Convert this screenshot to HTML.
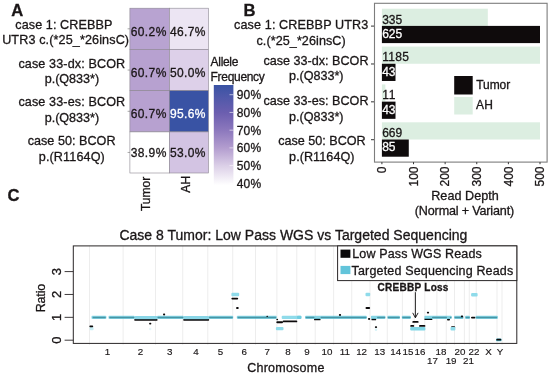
<!DOCTYPE html>
<html><head><meta charset="utf-8"><title>Figure</title>
<style>html,body{margin:0;padding:0;background:#fff}svg{display:block}text{font-family:"Liberation Sans", Arial, sans-serif}</style>
</head><body>
<svg width="550" height="376" viewBox="0 0 550 376" fill="#1a1617">
<rect width="550" height="376" fill="#ffffff"/>
<text x="11.2" y="16" font-size="16.6" font-weight="bold" stroke="#1a1617" stroke-width="0.3">A</text>
<text x="243.6" y="15.6" font-size="16.6" font-weight="bold" stroke="#1a1617" stroke-width="0.3">B</text>
<text x="7.4" y="200.8" font-size="16.6" font-weight="bold" stroke="#1a1617" stroke-width="0.3">C</text>
<text x="63.8" y="28.6" font-size="12.6" text-anchor="middle" textLength="97.0" stroke="#1a1617" stroke-width="0.3">case 1: CREBBP</text>
<text x="65.6" y="44.1" font-size="12.6" text-anchor="middle" textLength="126.9" stroke="#1a1617" stroke-width="0.3">UTR3 c.(*25_*26insC)</text>
<text x="71.8" y="67.5" font-size="12.6" text-anchor="middle" textLength="106.8" stroke="#1a1617" stroke-width="0.3">case 33-dx: BCOR</text>
<text x="71.9" y="82.5" font-size="12.6" text-anchor="middle" textLength="54.4" stroke="#1a1617" stroke-width="0.3">p.(Q833*)</text>
<text x="71.8" y="106.1" font-size="12.6" text-anchor="middle" textLength="106.8" stroke="#1a1617" stroke-width="0.3">case 33-es: BCOR</text>
<text x="71.9" y="121.6" font-size="12.6" text-anchor="middle" textLength="54.4" stroke="#1a1617" stroke-width="0.3">p.(Q833*)</text>
<text x="71.6" y="145.4" font-size="12.6" text-anchor="middle" textLength="87.9" stroke="#1a1617" stroke-width="0.3">case 50: BCOR</text>
<text x="71.8" y="161.3" font-size="12.6" text-anchor="middle" textLength="66" stroke="#1a1617" stroke-width="0.3">p.(R1164Q)</text>
<rect x="129.90" y="8.20" width="39.50" height="41.20" fill="#b8a3d1" stroke="#8c8791" stroke-width="0.6"/>
<rect x="169.40" y="8.20" width="39.10" height="41.20" fill="#ece5f3" stroke="#8c8791" stroke-width="0.6"/>
<rect x="129.90" y="49.40" width="39.50" height="41.30" fill="#b7a1d0" stroke="#8c8791" stroke-width="0.6"/>
<rect x="169.40" y="49.40" width="39.10" height="41.30" fill="#ddd0e9" stroke="#8c8791" stroke-width="0.6"/>
<rect x="129.90" y="90.70" width="39.50" height="41.20" fill="#b7a1d0" stroke="#8c8791" stroke-width="0.6"/>
<rect x="169.40" y="90.70" width="39.10" height="41.20" fill="#3953a4" stroke="#8c8791" stroke-width="0.6"/>
<rect x="129.90" y="131.90" width="39.50" height="41.10" fill="#ffffff" stroke="#8c8791" stroke-width="0.6"/>
<rect x="169.40" y="131.90" width="39.10" height="41.10" fill="#d3c4e3" stroke="#8c8791" stroke-width="0.6"/>
<text x="148.5" y="36.3" font-size="12" text-anchor="middle" textLength="35.6" stroke="#1a1617" stroke-width="0.3">60.2%</text>
<text x="187.7" y="36.3" font-size="12" text-anchor="middle" textLength="35.6" stroke="#1a1617" stroke-width="0.3">46.7%</text>
<text x="148.5" y="77.0" font-size="12" text-anchor="middle" textLength="35.6" stroke="#1a1617" stroke-width="0.3">60.7%</text>
<text x="187.7" y="77.0" font-size="12" text-anchor="middle" textLength="35.6" stroke="#1a1617" stroke-width="0.3">50.0%</text>
<text x="148.5" y="118.2" font-size="12" text-anchor="middle" textLength="35.6" stroke="#1a1617" stroke-width="0.3">60.7%</text>
<text x="187.7" y="118.2" font-size="12" text-anchor="middle" textLength="35.6" fill="#ffffff" stroke="#ffffff" stroke-width="0.3">95.6%</text>
<text x="148.5" y="157.3" font-size="12" text-anchor="middle" textLength="35.6" stroke="#1a1617" stroke-width="0.3">38.9%</text>
<text x="187.7" y="157.3" font-size="12" text-anchor="middle" textLength="35.6" stroke="#1a1617" stroke-width="0.3">53.0%</text>
<line x1="127.60" y1="28.80" x2="129.90" y2="28.80" stroke="#6e6e6e" stroke-width="0.6"/>
<line x1="127.60" y1="70.05" x2="129.90" y2="70.05" stroke="#6e6e6e" stroke-width="0.6"/>
<line x1="127.60" y1="111.30" x2="129.90" y2="111.30" stroke="#6e6e6e" stroke-width="0.6"/>
<line x1="127.60" y1="152.45" x2="129.90" y2="152.45" stroke="#6e6e6e" stroke-width="0.6"/>
<text x="150.1" y="176.8" font-size="12" text-anchor="end" textLength="34.2" stroke="#1a1617" stroke-width="0.3" transform="rotate(-90 150.1 176.8)">Tumor</text>
<text x="190.3" y="175.8" font-size="12" text-anchor="end" textLength="17" stroke="#1a1617" stroke-width="0.3" transform="rotate(-90 190.3 175.8)">AH</text>
<text x="210.6" y="65.8" font-size="12" textLength="27.8" stroke="#1a1617" stroke-width="0.3">Allele</text>
<text x="210.6" y="80.7" font-size="12" textLength="54.2" stroke="#1a1617" stroke-width="0.3">Frequency</text>
<defs><linearGradient id="cb" x1="0" y1="0" x2="0" y2="1">
<stop offset="0" stop-color="#3953a4"/><stop offset="0.099" stop-color="#4c58a9"/>
<stop offset="0.275" stop-color="#6b5eaf"/><stop offset="0.451" stop-color="#8c78bd"/>
<stop offset="0.628" stop-color="#b39dcf"/><stop offset="0.804" stop-color="#dbcfe7"/>
<stop offset="1" stop-color="#ffffff"/></linearGradient></defs>
<rect x="213.80" y="85.00" width="19.60" height="100.30" fill="url(#cb)"/>
<line x1="229.50" y1="94.70" x2="233.40" y2="94.70" stroke="#ffffff" stroke-width="0.6"/>
<text x="236.7" y="99.10000000000001" font-size="12" textLength="24.5" stroke="#1a1617" stroke-width="0.3">90%</text>
<line x1="229.50" y1="112.43" x2="233.40" y2="112.43" stroke="#ffffff" stroke-width="0.6"/>
<text x="236.7" y="116.83000000000001" font-size="12" textLength="24.5" stroke="#1a1617" stroke-width="0.3">80%</text>
<line x1="229.50" y1="130.16" x2="233.40" y2="130.16" stroke="#ffffff" stroke-width="0.6"/>
<text x="236.7" y="134.56" font-size="12" textLength="24.5" stroke="#1a1617" stroke-width="0.3">70%</text>
<line x1="229.50" y1="147.89" x2="233.40" y2="147.89" stroke="#ffffff" stroke-width="0.6"/>
<text x="236.7" y="152.29" font-size="12" textLength="24.5" stroke="#1a1617" stroke-width="0.3">60%</text>
<line x1="229.50" y1="165.62" x2="233.40" y2="165.62" stroke="#ffffff" stroke-width="0.6"/>
<text x="236.7" y="170.02" font-size="12" textLength="24.5" stroke="#1a1617" stroke-width="0.3">50%</text>
<line x1="229.50" y1="183.35" x2="233.40" y2="183.35" stroke="#ffffff" stroke-width="0.6"/>
<text x="236.7" y="187.75000000000003" font-size="12" textLength="24.5" stroke="#1a1617" stroke-width="0.3">40%</text>
<text x="301.2" y="28.7" font-size="12.6" text-anchor="middle" textLength="134.3" stroke="#1a1617" stroke-width="0.3">case 1: CREBBP UTR3</text>
<text x="301.1" y="45.0" font-size="12.6" text-anchor="middle" textLength="89.2" stroke="#1a1617" stroke-width="0.3">c.(*25_*26insC)</text>
<text x="316.0" y="65.3" font-size="12.6" text-anchor="middle" textLength="105" stroke="#1a1617" stroke-width="0.3">case 33-dx: BCOR</text>
<text x="316.3" y="80.2" font-size="12.6" text-anchor="middle" textLength="54.4" stroke="#1a1617" stroke-width="0.3">p.(Q833*)</text>
<text x="316.0" y="104.7" font-size="12.6" text-anchor="middle" textLength="105" stroke="#1a1617" stroke-width="0.3">case 33-es: BCOR</text>
<text x="316.3" y="120.8" font-size="12.6" text-anchor="middle" textLength="54.4" stroke="#1a1617" stroke-width="0.3">p.(Q833*)</text>
<text x="322.0" y="144.9" font-size="12.6" text-anchor="middle" textLength="87.4" stroke="#1a1617" stroke-width="0.3">case 50: BCOR</text>
<text x="321.8" y="161.3" font-size="12.6" text-anchor="middle" textLength="65.5" stroke="#1a1617" stroke-width="0.3">p.(R1164Q)</text>
<rect x="381.90" y="8.70" width="105.93" height="17.20" fill="#dceee1"/>
<rect x="381.90" y="25.90" width="158.10" height="17.20" fill="#0f0b0c"/>
<text x="382.2" y="23.599999999999998" font-size="12" textLength="20.009999999999998" stroke="#1a1617" stroke-width="0.3">335</text>
<text x="382.2" y="37.8" font-size="12" textLength="20.009999999999998" fill="#ffffff" stroke="#ffffff" stroke-width="0.3">625</text>
<line x1="371.00" y1="26.10" x2="374.50" y2="26.10" stroke="#333333" stroke-width="1.0"/>
<rect x="381.90" y="46.57" width="158.10" height="17.20" fill="#dceee1"/>
<rect x="381.90" y="63.77" width="13.60" height="17.20" fill="#0f0b0c"/>
<text x="382.2" y="61.47" font-size="12" textLength="26.68" stroke="#1a1617" stroke-width="0.3">1185</text>
<text x="382.2" y="75.67" font-size="12" textLength="13.34" fill="#ffffff" stroke="#ffffff" stroke-width="0.3">43</text>
<line x1="371.00" y1="63.97" x2="374.50" y2="63.97" stroke="#333333" stroke-width="1.0"/>
<rect x="381.90" y="84.44" width="3.48" height="17.20" fill="#dceee1"/>
<rect x="381.90" y="101.64" width="13.60" height="17.20" fill="#0f0b0c"/>
<text x="382.2" y="99.33999999999999" font-size="12" textLength="13.34" stroke="#1a1617" stroke-width="0.3">11</text>
<text x="382.2" y="113.53999999999999" font-size="12" textLength="13.34" fill="#ffffff" stroke="#ffffff" stroke-width="0.3">43</text>
<line x1="371.00" y1="101.84" x2="374.50" y2="101.84" stroke="#333333" stroke-width="1.0"/>
<rect x="381.90" y="122.31" width="158.10" height="17.20" fill="#dceee1"/>
<rect x="381.90" y="139.51" width="26.88" height="17.20" fill="#0f0b0c"/>
<text x="382.2" y="137.20999999999998" font-size="12" textLength="20.009999999999998" stroke="#1a1617" stroke-width="0.3">669</text>
<text x="382.2" y="151.41" font-size="12" textLength="13.34" fill="#ffffff" stroke="#ffffff" stroke-width="0.3">85</text>
<line x1="371.00" y1="139.71" x2="374.50" y2="139.71" stroke="#333333" stroke-width="1.0"/>
<rect x="374.50" y="3.30" width="172.60" height="158.80" fill="none" stroke="#7d7d7d" stroke-width="1.1"/>
<line x1="381.90" y1="162.10" x2="381.90" y2="164.20" stroke="#333333" stroke-width="1.0"/>
<text x="386.2" y="166.5" font-size="12" text-anchor="end" textLength="6.67" stroke="#1a1617" stroke-width="0.3" transform="rotate(-90 386.2 166.5)">0</text>
<line x1="413.52" y1="162.10" x2="413.52" y2="164.20" stroke="#333333" stroke-width="1.0"/>
<text x="417.82" y="166.5" font-size="12" text-anchor="end" textLength="20.009999999999998" stroke="#1a1617" stroke-width="0.3" transform="rotate(-90 417.82 166.5)">100</text>
<line x1="445.14" y1="162.10" x2="445.14" y2="164.20" stroke="#333333" stroke-width="1.0"/>
<text x="449.44" y="166.5" font-size="12" text-anchor="end" textLength="20.009999999999998" stroke="#1a1617" stroke-width="0.3" transform="rotate(-90 449.44 166.5)">200</text>
<line x1="476.76" y1="162.10" x2="476.76" y2="164.20" stroke="#333333" stroke-width="1.0"/>
<text x="481.06" y="166.5" font-size="12" text-anchor="end" textLength="20.009999999999998" stroke="#1a1617" stroke-width="0.3" transform="rotate(-90 481.06 166.5)">300</text>
<line x1="508.38" y1="162.10" x2="508.38" y2="164.20" stroke="#333333" stroke-width="1.0"/>
<text x="512.68" y="166.5" font-size="12" text-anchor="end" textLength="20.009999999999998" stroke="#1a1617" stroke-width="0.3" transform="rotate(-90 512.68 166.5)">400</text>
<line x1="540.00" y1="162.10" x2="540.00" y2="164.20" stroke="#333333" stroke-width="1.0"/>
<text x="544.3" y="166.5" font-size="12" text-anchor="end" textLength="20.009999999999998" stroke="#1a1617" stroke-width="0.3" transform="rotate(-90 544.3 166.5)">500</text>
<rect x="454.20" y="76.00" width="18.50" height="18.50" fill="#0f0b0c"/>
<rect x="454.20" y="97.00" width="18.50" height="17.50" fill="#dceee1"/>
<text x="476.2" y="89.0" font-size="12" textLength="34" stroke="#1a1617" stroke-width="0.3">Tumor</text>
<text x="476.0" y="109.0" font-size="12" textLength="17" stroke="#1a1617" stroke-width="0.3">AH</text>
<text x="465.0" y="200.4" font-size="12.6" text-anchor="middle" textLength="67.6" stroke="#1a1617" stroke-width="0.3">Read Depth</text>
<text x="464.5" y="214.9" font-size="12.6" text-anchor="middle" textLength="99.3" stroke="#1a1617" stroke-width="0.3">(Normal + Variant)</text>
<text x="119.4" y="239.6" font-size="14" textLength="348" stroke="#1a1617" stroke-width="0.3">Case 8 Tumor: Low Pass WGS vs Targeted Sequencing</text>
<line x1="89.50" y1="245.90" x2="89.50" y2="344.90" stroke="#e5e5e5" stroke-width="0.7"/>
<line x1="123.10" y1="245.90" x2="123.10" y2="344.90" stroke="#e5e5e5" stroke-width="0.7"/>
<line x1="155.50" y1="245.90" x2="155.50" y2="344.90" stroke="#e5e5e5" stroke-width="0.7"/>
<line x1="182.70" y1="245.90" x2="182.70" y2="344.90" stroke="#e5e5e5" stroke-width="0.7"/>
<line x1="207.80" y1="245.90" x2="207.80" y2="344.90" stroke="#e5e5e5" stroke-width="0.7"/>
<line x1="232.70" y1="245.90" x2="232.70" y2="344.90" stroke="#e5e5e5" stroke-width="0.7"/>
<line x1="255.50" y1="245.90" x2="255.50" y2="344.90" stroke="#e5e5e5" stroke-width="0.7"/>
<line x1="276.90" y1="245.90" x2="276.90" y2="344.90" stroke="#e5e5e5" stroke-width="0.7"/>
<line x1="296.80" y1="245.90" x2="296.80" y2="344.90" stroke="#e5e5e5" stroke-width="0.7"/>
<line x1="315.20" y1="245.90" x2="315.20" y2="344.90" stroke="#e5e5e5" stroke-width="0.7"/>
<line x1="333.60" y1="245.90" x2="333.60" y2="344.90" stroke="#e5e5e5" stroke-width="0.7"/>
<line x1="351.70" y1="245.90" x2="351.70" y2="344.90" stroke="#e5e5e5" stroke-width="0.7"/>
<line x1="370.00" y1="245.90" x2="370.00" y2="344.90" stroke="#e5e5e5" stroke-width="0.7"/>
<line x1="387.30" y1="245.90" x2="387.30" y2="344.90" stroke="#e5e5e5" stroke-width="0.7"/>
<line x1="402.40" y1="245.90" x2="402.40" y2="344.90" stroke="#e5e5e5" stroke-width="0.7"/>
<line x1="414.20" y1="245.90" x2="414.20" y2="344.90" stroke="#e5e5e5" stroke-width="0.7"/>
<line x1="424.80" y1="245.90" x2="424.80" y2="344.90" stroke="#e5e5e5" stroke-width="0.7"/>
<line x1="436.90" y1="245.90" x2="436.90" y2="344.90" stroke="#e5e5e5" stroke-width="0.7"/>
<line x1="446.30" y1="245.90" x2="446.30" y2="344.90" stroke="#e5e5e5" stroke-width="0.7"/>
<line x1="454.50" y1="245.90" x2="454.50" y2="344.90" stroke="#e5e5e5" stroke-width="0.7"/>
<line x1="464.40" y1="245.90" x2="464.40" y2="344.90" stroke="#e5e5e5" stroke-width="0.7"/>
<line x1="469.30" y1="245.90" x2="469.30" y2="344.90" stroke="#e5e5e5" stroke-width="0.7"/>
<line x1="476.20" y1="245.90" x2="476.20" y2="344.90" stroke="#e5e5e5" stroke-width="0.7"/>
<line x1="497.00" y1="245.90" x2="497.00" y2="344.90" stroke="#e5e5e5" stroke-width="0.7"/>
<line x1="502.00" y1="245.90" x2="502.00" y2="344.90" stroke="#e5e5e5" stroke-width="0.7"/>
<rect x="92.5" y="316.85" width="13.3" height="1.3" rx="0.65" fill="#0c0a0b"/>
<rect x="109.2" y="316.85" width="25.3" height="1.3" rx="0.65" fill="#0c0a0b"/>
<rect x="157.3" y="316.85" width="26.2" height="1.3" rx="0.65" fill="#0c0a0b"/>
<rect x="209.0" y="316.85" width="23.8" height="1.3" rx="0.65" fill="#0c0a0b"/>
<rect x="237.5" y="316.85" width="38.7" height="1.3" rx="0.65" fill="#0c0a0b"/>
<rect x="305.6" y="316.85" width="8.9" height="1.3" rx="0.65" fill="#0c0a0b"/>
<rect x="320.5" y="316.85" width="46.0" height="1.3" rx="0.65" fill="#0c0a0b"/>
<rect x="377.0" y="316.85" width="8.2" height="1.3" rx="0.65" fill="#0c0a0b"/>
<rect x="387.8" y="316.85" width="12.0" height="1.3" rx="0.65" fill="#0c0a0b"/>
<rect x="402.2" y="316.85" width="8.4" height="1.3" rx="0.65" fill="#0c0a0b"/>
<rect x="432.0" y="316.85" width="15.0" height="1.3" rx="0.65" fill="#0c0a0b"/>
<rect x="449.8" y="316.85" width="1.6" height="1.3" rx="0.65" fill="#0c0a0b"/>
<rect x="454.6" y="316.85" width="8.6" height="1.3" rx="0.65" fill="#0c0a0b"/>
<rect x="465.6" y="316.85" width="4.2" height="1.3" rx="0.65" fill="#0c0a0b"/>
<rect x="476.0" y="316.85" width="21.2" height="1.3" rx="0.65" fill="#0c0a0b"/>
<rect x="134.2" y="319.10" width="23.4" height="1.6" rx="0.8" fill="#0c0a0b"/>
<rect x="183.2" y="319.10" width="26.0" height="1.6" rx="0.8" fill="#0c0a0b"/>
<rect x="231.4" y="297.65" width="6.8" height="1.9" rx="0.95" fill="#0c0a0b"/>
<rect x="276.3" y="321.35" width="6.7" height="1.9" rx="0.95" fill="#0c0a0b"/>
<rect x="282.6" y="320.45" width="14.7" height="1.9" rx="0.95" fill="#0c0a0b"/>
<rect x="314.0" y="318.55" width="6.6" height="1.7" rx="0.85" fill="#0c0a0b"/>
<rect x="365.5" y="307.10" width="4.6" height="2.0" rx="1.0" fill="#0c0a0b"/>
<rect x="371.4" y="318.55" width="4.8" height="1.7" rx="0.85" fill="#0c0a0b"/>
<rect x="412.3" y="320.95" width="6.3" height="1.9" rx="0.95" fill="#0c0a0b"/>
<rect x="410.2" y="324.95" width="4.0" height="1.9" rx="0.95" fill="#0c0a0b"/>
<rect x="419.0" y="324.95" width="6.4" height="1.9" rx="0.95" fill="#0c0a0b"/>
<rect x="424.4" y="318.35" width="8.0" height="1.7" rx="0.85" fill="#0c0a0b"/>
<rect x="447.0" y="318.75" width="3.0" height="1.7" rx="0.85" fill="#0c0a0b"/>
<rect x="451.0" y="326.25" width="4.2" height="1.9" rx="0.95" fill="#0c0a0b"/>
<rect x="471.0" y="316.65" width="4.5" height="1.9" rx="0.95" fill="#0c0a0b"/>
<rect x="91.5" y="315.70" width="14.9" height="3.4" rx="1.0" fill="#5cc6dc" fill-opacity="0.74"/>
<rect x="108.5" y="315.70" width="26.3" height="3.4" rx="1.0" fill="#5cc6dc" fill-opacity="0.74"/>
<rect x="157.0" y="315.70" width="26.8" height="3.4" rx="1.0" fill="#5cc6dc" fill-opacity="0.74"/>
<rect x="208.7" y="315.70" width="24.5" height="3.4" rx="1.0" fill="#5cc6dc" fill-opacity="0.74"/>
<rect x="236.8" y="315.70" width="40.0" height="3.4" rx="1.0" fill="#5cc6dc" fill-opacity="0.74"/>
<rect x="305.0" y="315.70" width="61.9" height="3.4" rx="1.0" fill="#5cc6dc" fill-opacity="0.74"/>
<rect x="370.9" y="315.70" width="14.6" height="3.4" rx="1.0" fill="#5cc6dc" fill-opacity="0.74"/>
<rect x="387.3" y="315.70" width="12.7" height="3.4" rx="1.0" fill="#5cc6dc" fill-opacity="0.74"/>
<rect x="401.8" y="315.70" width="9.1" height="3.4" rx="1.0" fill="#5cc6dc" fill-opacity="0.74"/>
<rect x="424.4" y="315.70" width="27.4" height="3.4" rx="1.0" fill="#5cc6dc" fill-opacity="0.74"/>
<rect x="454.1" y="315.70" width="9.4" height="3.4" rx="1.0" fill="#5cc6dc" fill-opacity="0.74"/>
<rect x="465.0" y="315.70" width="5.0" height="3.4" rx="1.0" fill="#5cc6dc" fill-opacity="0.74"/>
<rect x="475.5" y="315.70" width="22.4" height="3.4" rx="1.0" fill="#5cc6dc" fill-opacity="0.74"/>
<rect x="134.5" y="315.90" width="22.8" height="3.4" rx="1.0" fill="#7fd3e5" fill-opacity="0.92"/>
<rect x="183.5" y="315.90" width="25.5" height="3.4" rx="1.0" fill="#7fd3e5" fill-opacity="0.92"/>
<rect x="281.7" y="315.70" width="19.7" height="3.4" rx="1.0" fill="#8fdbea"/>
<rect x="297.0" y="315.70" width="4.4" height="3.4" rx="1.0" fill="#6fcde0"/>
<rect x="231.4" y="292.80" width="7.8" height="3.4" rx="1.0" fill="#8fdbea"/>
<rect x="275.9" y="326.90" width="7.6" height="3.4" rx="1.0" fill="#8fdbea"/>
<rect x="410.2" y="327.10" width="15.2" height="3.4" rx="1.0" fill="#7fd5e5"/>
<rect x="450.5" y="327.10" width="4.9" height="3.4" rx="1.0" fill="#8fdbe9"/>
<rect x="471.1" y="293.10" width="6.5" height="3.4" rx="1.0" fill="#8fdbea"/>
<rect x="365.5" y="292.80" width="4.7" height="3.4" rx="1.0" fill="#8fdbea"/>
<rect x="89.6" y="326.90" width="4.0" height="3.4" rx="1.0" fill="#c9eef5"/>
<rect x="149.0" y="327.70" width="2.4" height="2.6" rx="1.0" fill="#e6f7fa"/>
<rect x="374.8" y="328.30" width="2.4" height="2.6" rx="1.0" fill="#d9f3f8"/>
<rect x="496.0" y="338.40" width="5.6" height="2.8" rx="1.0" fill="#5cc6dc"/>
<rect x="496.3" y="338.80" width="5.0" height="1.8" rx="0.9" fill="#0c0a0b"/>
<rect x="89.4" y="325.40" width="3.8" height="1.8" rx="0.8" fill="#0c0a0b"/>
<rect x="149.1" y="322.70" width="2.2" height="1.8" rx="0.8" fill="#0c0a0b"/>
<rect x="163.0" y="313.60" width="2.2" height="1.8" rx="0.8" fill="#0c0a0b"/>
<rect x="236.1" y="307.10" width="2.6" height="2.0" rx="0.8" fill="#0c0a0b"/>
<rect x="266.3" y="315.70" width="1.8" height="1.2" rx="0.8" fill="#0c0a0b"/>
<rect x="276.3" y="318.80" width="1.8" height="1.4" rx="0.8" fill="#0c0a0b"/>
<rect x="338.9" y="314.10" width="2.2" height="1.8" rx="0.8" fill="#0c0a0b"/>
<rect x="368.0" y="318.10" width="2.2" height="1.8" rx="0.8" fill="#0c0a0b"/>
<rect x="374.9" y="326.30" width="2.2" height="1.8" rx="0.8" fill="#0c0a0b"/>
<rect x="426.9" y="311.80" width="2.2" height="1.8" rx="0.8" fill="#0c0a0b"/>
<rect x="460.9" y="315.50" width="2.2" height="1.8" rx="0.8" fill="#0c0a0b"/>
<rect x="73.30" y="245.90" width="443.50" height="97.50" fill="none" stroke="#2a2627" stroke-width="1.0"/>
<line x1="64.60" y1="340.20" x2="73.30" y2="340.20" stroke="#2a2627" stroke-width="0.9"/>
<text x="60.7" y="340.2" font-size="13" text-anchor="middle" stroke="#1a1617" stroke-width="0.3" transform="rotate(-90 60.7 340.2)">0</text>
<line x1="64.60" y1="317.33" x2="73.30" y2="317.33" stroke="#2a2627" stroke-width="0.9"/>
<text x="60.7" y="317.33" font-size="13" text-anchor="middle" stroke="#1a1617" stroke-width="0.3" transform="rotate(-90 60.7 317.33)">1</text>
<line x1="64.60" y1="294.46" x2="73.30" y2="294.46" stroke="#2a2627" stroke-width="0.9"/>
<text x="60.7" y="294.46" font-size="13" text-anchor="middle" stroke="#1a1617" stroke-width="0.3" transform="rotate(-90 60.7 294.46)">2</text>
<line x1="64.60" y1="271.59" x2="73.30" y2="271.59" stroke="#2a2627" stroke-width="0.9"/>
<text x="60.7" y="271.59" font-size="13" text-anchor="middle" stroke="#1a1617" stroke-width="0.3" transform="rotate(-90 60.7 271.59)">3</text>
<text x="45.0" y="298.0" font-size="12.5" text-anchor="middle" textLength="28.6" stroke="#1a1617" stroke-width="0.3" transform="rotate(-90 45.0 298.0)">Ratio</text>
<rect x="337.60" y="245.90" width="179.20" height="34.70" fill="#ffffff" stroke="#2a2627" stroke-width="1.0"/>
<rect x="340.50" y="249.60" width="9.90" height="8.20" fill="#0c0a0b"/>
<rect x="340.50" y="265.90" width="9.90" height="8.20" fill="#62c4da"/>
<text x="352.2" y="258.4" font-size="12.5" textLength="129.6" stroke="#1a1617" stroke-width="0.3">Low Pass WGS Reads</text>
<text x="351.6" y="274.6" font-size="12.5" textLength="161.6" stroke="#1a1617" stroke-width="0.3">Targeted Sequencing Reads</text>
<text x="377.6" y="290.5" font-size="10" textLength="70.8" font-weight="bold" stroke="#1a1617" stroke-width="0.3">CREBBP Loss</text>
<line x1="415.40" y1="292.20" x2="415.40" y2="317.40" stroke="#0c0a0b" stroke-width="0.9"/>
<path d="M412.9 313.2 L415.4 317.8 L417.9 313.2" fill="none" stroke="#0c0a0b" stroke-width="0.9" stroke-linecap="round" stroke-linejoin="round"/>
<text x="107.6" y="354.6" font-size="9.8" text-anchor="middle" stroke="#1a1617" stroke-width="0.15">1</text>
<text x="140.4" y="354.6" font-size="9.8" text-anchor="middle" stroke="#1a1617" stroke-width="0.15">2</text>
<text x="169.8" y="354.6" font-size="9.8" text-anchor="middle" stroke="#1a1617" stroke-width="0.15">3</text>
<text x="196.0" y="354.6" font-size="9.8" text-anchor="middle" stroke="#1a1617" stroke-width="0.15">4</text>
<text x="220.5" y="354.6" font-size="9.8" text-anchor="middle" stroke="#1a1617" stroke-width="0.15">5</text>
<text x="244.3" y="354.6" font-size="9.8" text-anchor="middle" stroke="#1a1617" stroke-width="0.15">6</text>
<text x="267.2" y="354.6" font-size="9.8" text-anchor="middle" stroke="#1a1617" stroke-width="0.15">7</text>
<text x="288.0" y="354.6" font-size="9.8" text-anchor="middle" stroke="#1a1617" stroke-width="0.15">8</text>
<text x="307.0" y="354.6" font-size="9.8" text-anchor="middle" stroke="#1a1617" stroke-width="0.15">9</text>
<text x="327.0" y="354.6" font-size="9.8" text-anchor="middle" stroke="#1a1617" stroke-width="0.15">10</text>
<text x="344.8" y="354.6" font-size="9.8" text-anchor="middle" stroke="#1a1617" stroke-width="0.15">11</text>
<text x="361.6" y="354.6" font-size="9.8" text-anchor="middle" stroke="#1a1617" stroke-width="0.15">12</text>
<text x="379.8" y="354.6" font-size="9.8" text-anchor="middle" stroke="#1a1617" stroke-width="0.15">13</text>
<text x="395.8" y="354.6" font-size="9.8" text-anchor="middle" stroke="#1a1617" stroke-width="0.15">14</text>
<text x="407.9" y="354.6" font-size="9.8" text-anchor="middle" stroke="#1a1617" stroke-width="0.15">15</text>
<text x="420.0" y="354.6" font-size="9.8" text-anchor="middle" stroke="#1a1617" stroke-width="0.15">16</text>
<text x="440.9" y="354.6" font-size="9.8" text-anchor="middle" stroke="#1a1617" stroke-width="0.15">18</text>
<text x="460.0" y="354.6" font-size="9.8" text-anchor="middle" stroke="#1a1617" stroke-width="0.15">20</text>
<text x="474.0" y="354.6" font-size="9.8" text-anchor="middle" stroke="#1a1617" stroke-width="0.15">22</text>
<text x="488.5" y="354.6" font-size="9.8" text-anchor="middle" stroke="#1a1617" stroke-width="0.15">X</text>
<text x="500.0" y="354.6" font-size="9.8" text-anchor="middle" stroke="#1a1617" stroke-width="0.15">Y</text>
<text x="432.5" y="364.1" font-size="9.8" text-anchor="middle" stroke="#1a1617" stroke-width="0.15">17</text>
<text x="451.1" y="364.1" font-size="9.8" text-anchor="middle" stroke="#1a1617" stroke-width="0.15">19</text>
<text x="468.4" y="364.1" font-size="9.8" text-anchor="middle" stroke="#1a1617" stroke-width="0.15">21</text>
<text x="247.2" y="372.4" font-size="12.5" textLength="77.2" stroke="#1a1617" stroke-width="0.3">Chromosome</text>
</svg>
</body></html>
